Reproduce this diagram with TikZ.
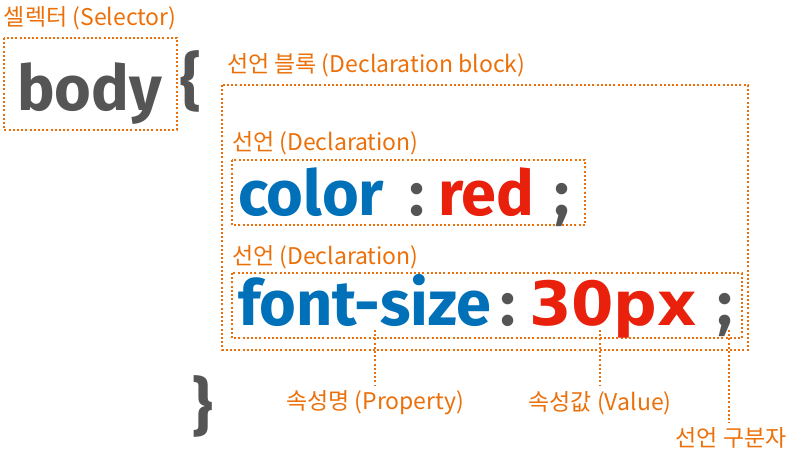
\documentclass[tikz,border=0pt]{standalone}
\usepackage{fontspec}
\usepackage{xcolor}
\newfontfamily\krfont{Noto Sans CJK KR}
\newfontfamily\codefont{Fira Sans}
\newfontfamily\digitfont{DejaVu Sans}
\definecolor{tagorange}{RGB}{236,112,10}
\definecolor{propblue}{RGB}{0,112,184}
\definecolor{valred}{RGB}{232,32,12}
\definecolor{codegray}{RGB}{85,85,85}
\usetikzlibrary{calc}

\begin{document}
\begin{tikzpicture}[x=1pt,y=-1pt]
	\tikzstyle{every node}=[inner sep=0pt,outer sep=0pt]
	\tikzstyle{tag}=[font=\krfont\fontsize{23}{27}\selectfont, text=tagorange]
	\tikzstyle{code}=[font=\codefont\bfseries\fontsize{63}{70}\selectfont, anchor=base west]
	\tikzstyle{dotbox}=[draw=tagorange, line width=2pt, dash pattern=on 2pt off 2.2pt]
	\tikzstyle{leader}=[draw=tagorange, line width=2pt, dash pattern=on 2pt off 2.2pt]
	\useasboundingbox (0,0) rectangle (800,459);
	\node [tag, anchor=west] (selLabel) at (4,18) {셀렉터 (Selector)};
	\draw [dotbox] (4,38) rectangle (177,130);
	\node [code, text=codegray] (body) at (17,110) {body};
	\node [code, text=codegray] (lbrace) at (180,103) {\{};
	\node [tag, anchor=west] (blockLabel) at (227,65) {선언 블록 (Declaration block)};
	\draw [dotbox] (222,85) rectangle (748,350);
	\node [tag, anchor=west] (declLabelA) at (232,143) {선언 (Declaration)};
	\draw [dotbox] (232,160) rectangle (585,225);
	\node [code, text=propblue] (color) at (238,215) {color};
	\node [code, text=codegray] (colonA) at (409,215) {:};
	\node [code, text=valred] (red) at (438,215) {red};
	\node [code, text=codegray] (semiA) at (554,215) {;};
	\node [tag, anchor=west] (declLabelB) at (232,257) {선언 (Declaration)};
	\draw [dotbox] (232,273) rectangle (742,338);
	\node [code, text=propblue] (fontsize) at (238,325) {font-size};
	\node [code, text=codegray] (colonB) at (500,325) {:};
	\node [code, text=valred, font=\digitfont\bfseries\fontsize{61}{70}\selectfont] (valpx) at (529,325) {30px};
	\node [code, text=codegray] (semiB) at (717,325) {;};
	\node [code, text=codegray] (rbrace) at (192,428) {\}};
	\node [tag] (propLabel) at (375,403) {속성명 (Property)};
	\node [tag] (valLabel) at (600,403) {속성값 (Value)};
	\node [tag] (sepLabel) at (731,438) {선언 구분자};
	\coordinate (propTop) at (375,330);
	\coordinate (valTop) at (600,330);
	\coordinate (sepTop) at (729,330);
	\draw [leader] (propTop) -- ($(propLabel.north)+(0,-6)$);
	\draw [leader] (valTop) -- ($(valLabel.north)+(0,-6)$);
	\draw [leader] (sepTop) -- ($(sepLabel.north -| sepTop)+(0,-5)$);
\end{tikzpicture}
\end{document}
